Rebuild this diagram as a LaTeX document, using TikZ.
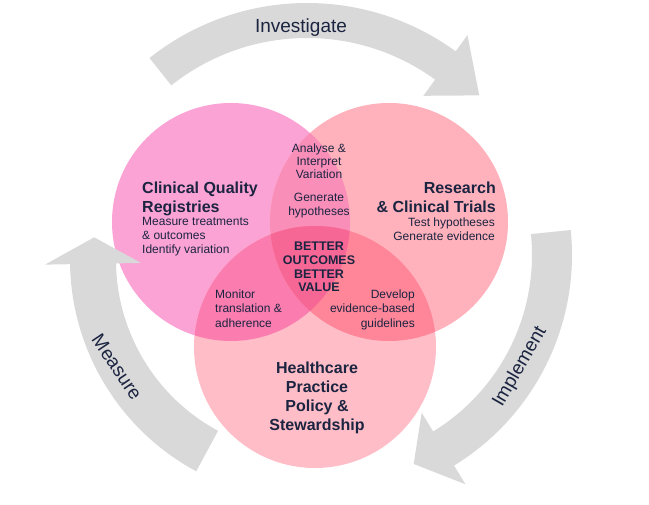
\documentclass[tikz,border=0pt]{standalone}
\usepackage{fontspec}
\setmainfont{Liberation Sans}
\usepackage{xcolor}
\usepackage{tikz}
\usetikzlibrary{positioning, calc}

\definecolor{navy}{HTML}{1B2440}
\definecolor{arrowgray}{HTML}{D9D9D9}
\definecolor{cqrpink}{HTML}{FCA3D6}
\definecolor{rctpink}{HTML}{FFB1BC}
\definecolor{hppink}{HTML}{FFBDC7}
\definecolor{lrpink}{HTML}{F98EB9}
\definecolor{lbpink}{HTML}{FB7DB0}
\definecolor{rbpink}{HTML}{FF8599}
\definecolor{midpink}{HTML}{F76796}

% curved arrow: cx, cy, inner r, outer r, start angle, head base angle, tip angle, head overhang
\newcommand{\cyclearrow}[8]{%
  \fill[arrowgray, shift={(#1,#2)}]
    (#5:#4) arc[start angle=#5, end angle=#6, radius=#4]
    -- ({#6}:{#4+#8}) -- ({#7}:{(#3+#4)/2}) -- ({#6}:{#3-#8})
    -- (#6:#3) arc[start angle=#6, end angle=#5, radius=#3] -- cycle;
}

\begin{document}
\begin{tikzpicture}[x=1pt, y=1pt,
    small/.style={text=navy, inner sep=0pt, font=\fontsize{12}{14}\selectfont},
    big/.style={text=navy, inner sep=0pt, font=\bfseries\fontsize{16}{19}\selectfont},
    cyclelabel/.style={text=navy, inner sep=0pt, font=\fontsize{19}{22}\selectfont}]
    \useasboundingbox (0,0) rectangle (649,505);

    % Circles
    \coordinate (lc) at (231,283);
    \coordinate (rc) at (389,283);
    \coordinate (bc) at (315,158);
    \fill[cqrpink] (lc) circle[radius=119];
    \fill[rctpink] (rc) circle[radius=119];
    \fill[hppink] (bc) circle[radius=121];

    % Overlaps
    \begin{scope}
        \clip (lc) circle[radius=119];
        \fill[lrpink] (rc) circle[radius=119];
        \fill[lbpink] (bc) circle[radius=121];
    \end{scope}
    \begin{scope}
        \clip (rc) circle[radius=119];
        \fill[rbpink] (bc) circle[radius=121];
        \clip (lc) circle[radius=119];
        \fill[midpink] (bc) circle[radius=121];
    \end{scope}

    % Cycle arrows
    \cyclearrow{307}{249}{218}{253}{128.5}{54}{43}{20}
    \cyclearrow{325}{250}{207}{247}{5.8}{-58.5}{-67}{22}
    \cyclearrow{310}{245}{194}{240}{241.7}{181}{174}{25}

    \node[cyclelabel] (inv) at (301,477) {Investigate};
    \node[cyclelabel, rotate=60] (imp) at (520,138) {Implement};
    \node[cyclelabel, rotate=-56] (mea) at (117,138) {Measure};

    % Circle texts
    \node[big, align=left, anchor=north west] (cqr) at (142,323.5) {Clinical Quality\\Registries};
    \node[small, align=left, anchor=north west] (cqrtext) at (142,287.6) {Measure treatments\\\& outcomes\\Identify variation};
    \node[big, align=right, anchor=north east] (rct) at (496,323.5) {Research\\\& Clinical Trials};
    \node[small, align=right, anchor=north east] (rcttext) at (495,287.6) {Test hypotheses\\Generate evidence};
    \node[big, align=center, anchor=north] (hps) at (317,143.7) {Healthcare\\Practice\\Policy \&\\Stewardship};

    % Overlap texts
    \node[small, align=center, anchor=north, font=\fontsize{12}{13}\selectfont] (aiv) at (319,361.6) {Analyse \&\\Interpret\\Variation};
    \node[small, align=center, anchor=north] (gen) at (319,311.6) {Generate\\hypotheses};
    \node[small, align=left, anchor=north west, font=\fontsize{12}{14.5}\selectfont] (mon) at (215,215.6) {Monitor\\translation \&\\adherence};
    \node[small, align=right, anchor=north east, font=\fontsize{12}{14.5}\selectfont] (dev) at (415,215.6) {Develop\\evidence-based\\guidelines};
    \node[small, align=center, anchor=north, font=\bfseries\fontsize{12.5}{13.7}\selectfont] (bob) at (319,263) {BETTER\\OUTCOMES\\BETTER\\VALUE};

\end{tikzpicture}
\end{document}
